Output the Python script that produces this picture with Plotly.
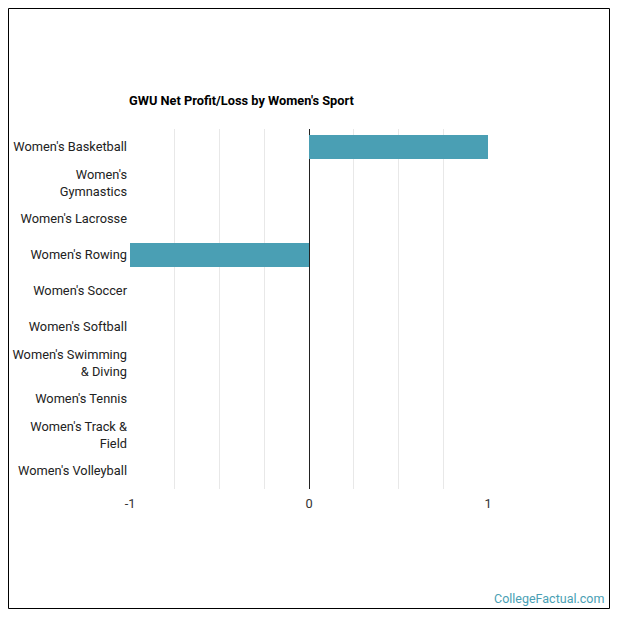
import plotly.graph_objects as go

categories = ["Women's Basketball", "Women's<br>Gymnastics", "Women's Lacrosse", "Women's Rowing",
              "Women's Soccer", "Women's Softball", "Women's Swimming<br>& Diving", "Women's Tennis",
              "Women's Track &<br>Field", "Women's Volleyball"]
values = [1, 0, 0, -1, 0, 0, 0, 0, 0, 0]
x_ticks = [-1, 0, 1]
x_tick_labels = ["-1", "0", "1"]

W, H = 620, 620
L, R, T, B = 130, 488, 129, 489

fig = go.Figure(go.Bar(
    x=values, y=categories, orientation="h",
    marker=dict(color="#4a9fb4", line=dict(width=0)),
    hoverinfo="x+y",
))

def px(x):
    return (x - L) / (R - L)

def py(y):
    return (B - y) / (B - T)

fig.update_layout(
    width=W, height=H,
    margin=dict(l=L, r=W - R, t=T, b=H - B, pad=0),
    paper_bgcolor="white", plot_bgcolor="white",
    font=dict(family="Roboto", size=12, color="#333333"),
    bargap=0.33,
    showlegend=False,
    title=dict(text="<b>GWU Net Profit/Loss by Women's Sport</b>",
               x=129 / W, xref="container", xanchor="left",
               y=1 - 101 / H, yref="container", yanchor="middle",
               font=dict(family="Roboto", size=12.8, color="#000000")),
    xaxis=dict(range=[-1, 1], tickvals=x_ticks, ticktext=x_tick_labels,
               showgrid=True, gridcolor="#d0d0d0", gridwidth=1,
               minor=dict(dtick=0.25, showgrid=True, gridcolor="#e8e8e8", gridwidth=1),
               zeroline=True, zerolinecolor="#222222", zerolinewidth=1,
               showline=False, ticks="", tickfont=dict(size=12.8, color="#333333"),
               ticklabelstandoff=5, fixedrange=True),
    yaxis=dict(autorange="reversed", showgrid=False, showline=False, ticks="",
               tickfont=dict(size=12.8, color="#222222"), fixedrange=True,
               ticklabelstandoff=2),
    shapes=[dict(type="rect", xref="paper", yref="paper",
                 x0=px(8.5), x1=px(609.5), y0=py(608.5), y1=py(8.5),
                 line=dict(color="#000000", width=1), fillcolor="rgba(0,0,0,0)")],
    annotations=[dict(text="CollegeFactual.com", xref="paper", yref="paper",
                      x=px(606), y=py(598), xanchor="right", yanchor="middle",
                      showarrow=False, font=dict(family="Roboto", size=12.5, color="#4a9fb4"))],
)

fig.write_html("out.html")
